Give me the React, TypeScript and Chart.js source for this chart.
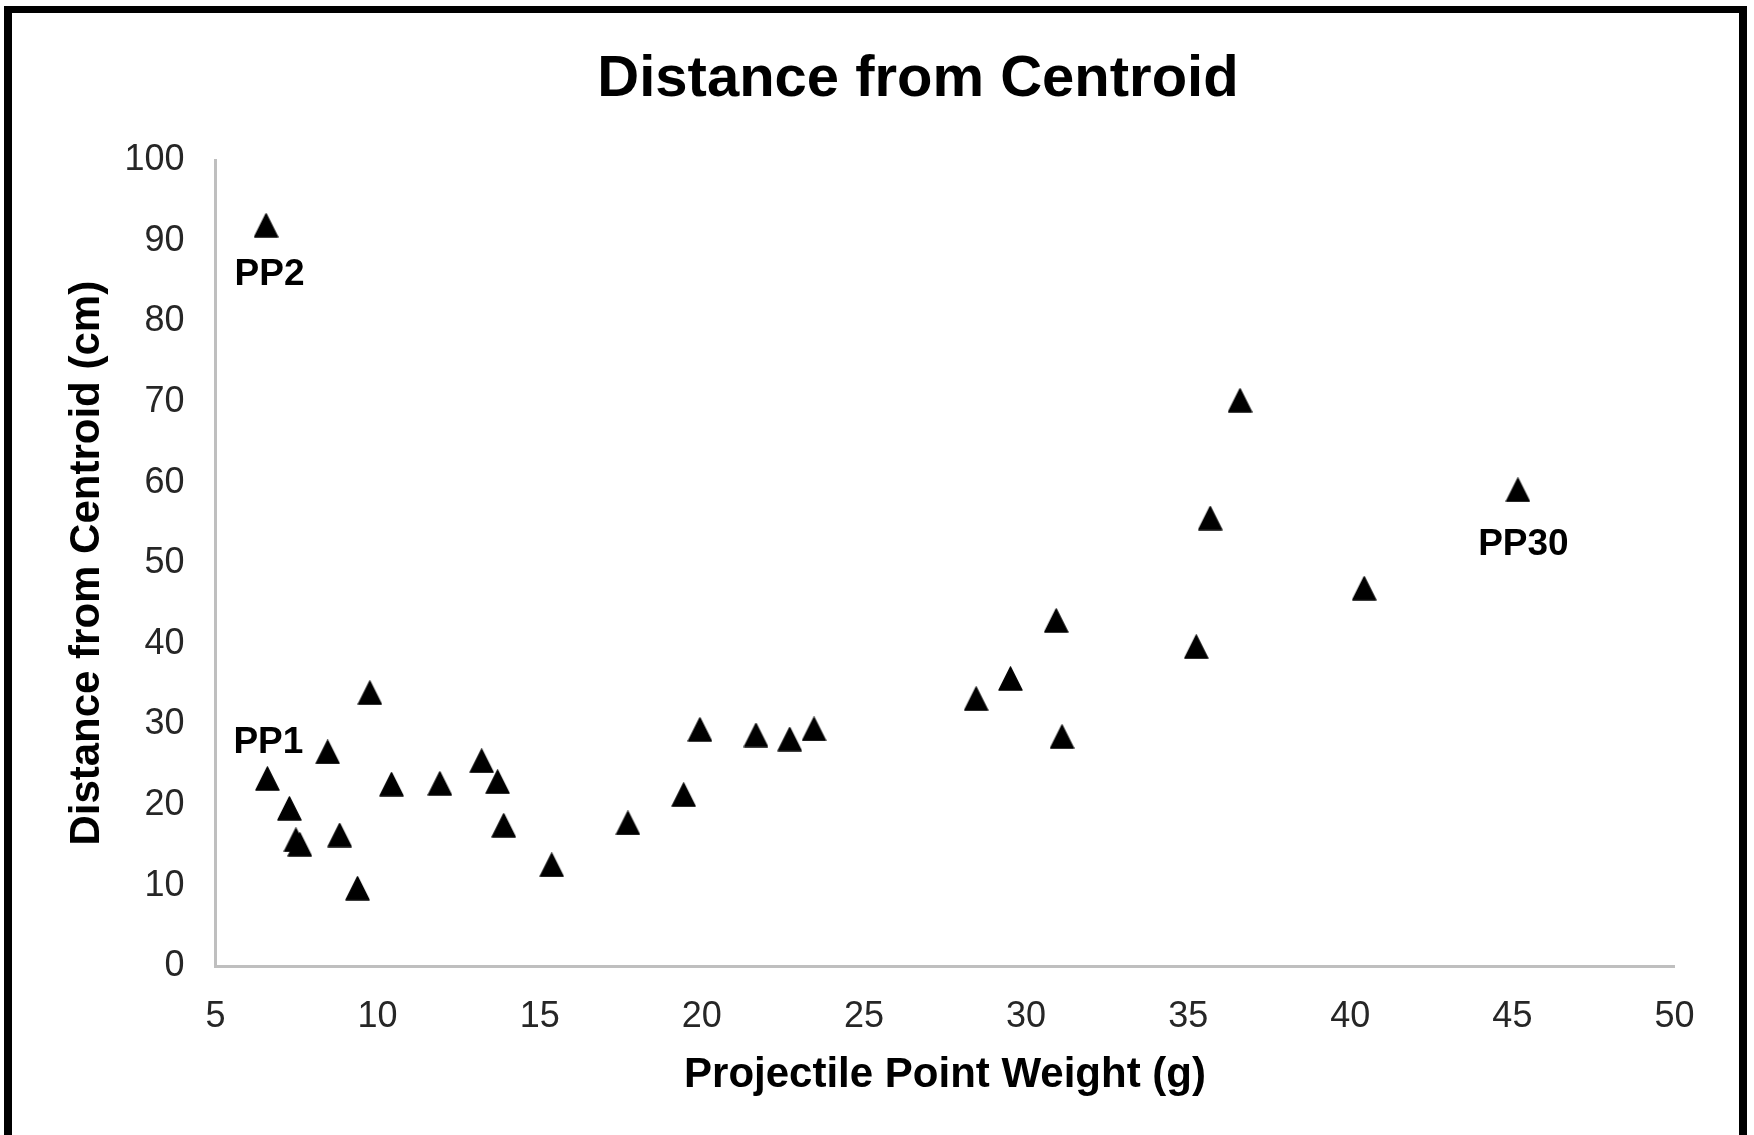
import React, { useEffect, useRef } from 'react';
import { Chart, registerables } from 'chart.js';

Chart.register(...registerables);

// Projectile point weight (g) and distance from the centroid (cm), one entry per point
const weights = [
  6.60, 6.56, 7.28, 7.48, 7.60, 8.46, 8.83, 9.38, 9.76, 10.43,
  11.92, 13.21, 13.70, 13.89, 15.37, 17.72, 19.44, 19.94, 21.67, 22.71,
  23.46, 28.46, 29.52, 30.93, 31.11, 35.25, 35.68, 36.60, 40.43, 45.17,
];
const distances = [
  23.3, 91.9, 19.6, 15.7, 15.15, 26.6, 16.3, 9.7, 33.95, 22.6,
  22.7, 25.5, 22.9, 17.5, 12.6, 17.8, 21.3, 29.4, 28.7, 28.2,
  29.45, 33.2, 35.7, 42.9, 28.5, 39.65, 55.6, 70.2, 46.9, 59.1,
];

// Named points and the index of the point each name belongs to
const pointNames = ['PP1', 'PP2', 'PP30'];
const pointNameIndex = [0, 1, 29];

const xTickValues = [5, 10, 15, 20, 25, 30, 35, 40, 45, 50];
const yTickValues = [0, 10, 20, 30, 40, 50, 60, 70, 80, 90, 100];

const chartTitle = 'Distance from Centroid';
const xAxisTitle = 'Projectile Point Weight (g)';
const yAxisTitle = 'Distance from Centroid (cm)';

const W = 1754;
const H = 1135;
const FONT = "'Liberation Sans', Arial, Helvetica, sans-serif";
const PLOT = { left: 215.5, right: 1674.5, top: 160, bottom: 966.5 };

// Where each point name sits relative to its marker
const nameOffsets = [
  { dx: 1, dy: -39 },
  { dx: 3.5, dy: 46 },
  { dx: 5.5, dy: 52 },
];

function makeTriangleMarker(): HTMLCanvasElement {
  const c = document.createElement('canvas');
  c.width = 25;
  c.height = 25;
  const g = c.getContext('2d')!;
  g.fillStyle = '#000';
  g.strokeStyle = '#000';
  g.lineJoin = 'round';
  g.lineWidth = 1.5;
  g.beginPath();
  g.moveTo(12.5, 1);
  g.lineTo(24, 24);
  g.lineTo(1, 24);
  g.closePath();
  g.fill();
  g.stroke();
  return c;
}

const decorations = {
  id: 'decorations',
  beforeDraw(chart: any) {
    const ctx = chart.ctx as CanvasRenderingContext2D;
    ctx.save();
    ctx.fillStyle = '#ffffff';
    ctx.fillRect(0, 0, W, H);
    // outer black frame (open at the bottom edge)
    ctx.fillStyle = '#000000';
    ctx.fillRect(4, 6, 8, H - 6);
    ctx.fillRect(4, 6, 1743, 7);
    ctx.fillRect(1739, 6, 8, H - 6);
    ctx.restore();
  },
  afterDatasetsDraw(chart: any) {
    const ctx = chart.ctx as CanvasRenderingContext2D;
    const meta = chart.getDatasetMeta(0);
    ctx.save();
    ctx.fillStyle = '#000000';
    ctx.textAlign = 'center';
    ctx.textBaseline = 'alphabetic';
    ctx.font = `bold 58px ${FONT}`;
    ctx.fillText(chartTitle, 918, 96);

    ctx.font = `bold 37px ${FONT}`;
    pointNames.forEach((name, i) => {
      const el = meta.data[pointNameIndex[i]];
      if (!el) return;
      const off = nameOffsets[i];
      ctx.fillText(name, el.x + off.dx, el.y + off.dy + 13.2);
    });
    ctx.restore();
  },
};

export default function App() {
  const canvasRef = useRef<HTMLCanvasElement | null>(null);

  useEffect(() => {
    const canvas = canvasRef.current;
    if (!canvas) return;
    const marker = makeTriangleMarker();
    const points = weights.map((x, i) => ({ x, y: distances[i] }));

    const tickFont = { family: FONT, size: 36 };
    const titleFont = { family: FONT, size: 42, weight: 'bold' as const };

    const chart = new Chart(canvas, {
      type: 'scatter',
      data: {
        datasets: [
          {
            label: yAxisTitle,
            data: points,
            pointStyle: marker,
            pointRadius: 12,
            pointHoverRadius: 12,
            showLine: false,
            backgroundColor: '#000',
            borderColor: '#000',
          },
        ],
      },
      options: {
        responsive: false,
        animation: false,
        events: [],
        layout: {
          padding: { top: PLOT.top, right: W - PLOT.right, bottom: 0, left: 0 },
        },
        plugins: {
          legend: { display: false },
          tooltip: { enabled: false },
          title: { display: false },
        },
        scales: {
          x: {
            type: 'linear',
            min: 5,
            max: 50,
            afterBuildTicks: (s: any) => {
              s.ticks = xTickValues.map((v) => ({ value: v }));
            },
            afterFit: (s: any) => {
              s.height = H - PLOT.bottom;
            },
            grid: { display: false, drawTicks: false },
            border: { display: true, color: '#bfbfbf', width: 3 },
            ticks: {
              color: '#262626',
              font: tickFont,
              padding: 29,
              maxRotation: 0,
              autoSkip: false,
            },
            title: {
              display: true,
              text: xAxisTitle,
              color: '#000',
              font: titleFont,
              padding: { top: 0, bottom: 34 },
            },
          },
          y: {
            type: 'linear',
            min: 0,
            max: 100,
            afterBuildTicks: (s: any) => {
              s.ticks = yTickValues.map((v) => ({ value: v }));
            },
            afterFit: (s: any) => {
              s.width = PLOT.left;
            },
            grid: { display: false, drawTicks: false },
            border: { display: true, color: '#bfbfbf', width: 3 },
            ticks: {
              color: '#262626',
              font: tickFont,
              padding: 31,
              autoSkip: false,
            },
            title: {
              display: true,
              text: yAxisTitle,
              color: '#000',
              font: titleFont,
              padding: { top: 62, bottom: 0 },
            },
          },
        },
      },
      plugins: [decorations],
    });

    return () => {
      chart.destroy();
    };
  }, []);

  return (
    <div style={{ position: 'fixed', left: 0, top: 0, width: W, height: H, background: '#fff' }}>
      <canvas ref={canvasRef} width={W} height={H} style={{ display: 'block' }} />
    </div>
  );
}
